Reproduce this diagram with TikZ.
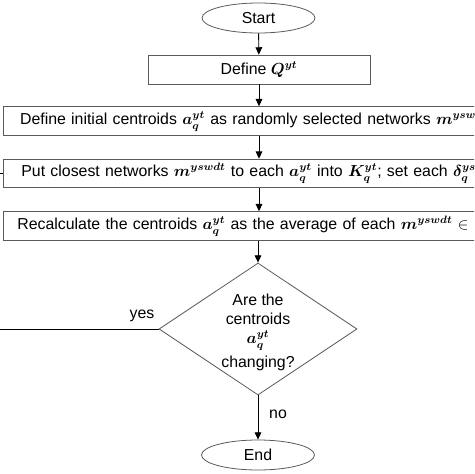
\documentclass[tikz,border=0pt]{standalone}
\usepackage{amsmath}
\usepackage{fontspec}
\setmainfont{Liberation Sans}
\usetikzlibrary{shapes.geometric,arrows.meta}
\tikzset{
  boxline/.style={draw={rgb,255:red,90;green,90;blue,90}, line width=0.6pt},
  terminal/.style={boxline, ellipse, inner sep=0pt, minimum width=84.75pt, minimum height=22.5pt},
  stepbox/.style={boxline, rectangle, inner sep=0pt, minimum height=21.75pt},
  widebox/.style={boxline, rectangle, anchor=west, inner ysep=0pt, minimum height=21.5pt, text width=450pt, align=left},
  flow/.style={-{Triangle[length=5.5pt,width=5pt]}, line width=0.7pt, black},
  plainline/.style={line width=0.7pt, black}
}
\newcommand{\bmx}[1]{\ensuremath{\boldsymbol{#1}}}
\begin{document}
\begin{tikzpicture}[x=0.75pt,y=0.75pt,yscale=-1,xscale=1,font=\fontsize{11.9}{14}\selectfont]
\useasboundingbox (0,0) rectangle (474,474);
\clip (0,0) rectangle (474,474);

% Terminals and steps
\node[terminal] (start) at (258.5,18) {Start};
\node[stepbox, minimum width=166.5pt] (defq) at (259,69.5) {Define \bmx{Q^{yt}}};
\node[widebox, inner xsep=12.5pt] (init) at (3,121) {Define initial centroids \bmx{a_q^{yt}} as randomly selected networks \bmx{m^{yswdt}}};
\node[widebox, inner xsep=13.5pt] (assign) at (3,173.5) {Put closest networks \bmx{m^{yswdt}} to each \bmx{a_q^{yt}} into \bmx{K_q^{yt}}; set each \bmx{\delta_q^{yswdt}}};
\node[widebox, inner xsep=10.5pt] (recalc) at (3,226) {Recalculate the centroids \bmx{a_q^{yt}} as the average of each \bmx{m^{yswdt}} $\in$};

% Decision
\node[boxline, diamond, inner sep=0pt, minimum width=148.5pt, minimum height=99pt] (check) at (258,329) {};
\node[align=center, font=\fontsize{11.9}{14.5}\selectfont] (checktext) at (258,332) {Are the\\centroids\\\bmx{a_q^{yt}}\\[3pt]changing?};
\node[terminal] (stop) at (258,455) {End};

% Connectors
\draw[flow] (start) -- (defq);
\draw[flow] (defq) -- (defq |- init.north);
\draw[flow] (defq |- init.south) -- (defq |- assign.north);
\draw[flow] (defq |- assign.south) -- (defq |- recalc.north);
\draw[flow] (check |- recalc.south) -- (check.north);
\draw[flow] (check.south) -- (stop.north);
\draw[plainline] (check.west) -- ++(-175,0) |- (assign.west);

% Labels
\node (yes) at (142,316) {yes};
\node (no) at (278,414) {no};

\end{tikzpicture}
\end{document}
